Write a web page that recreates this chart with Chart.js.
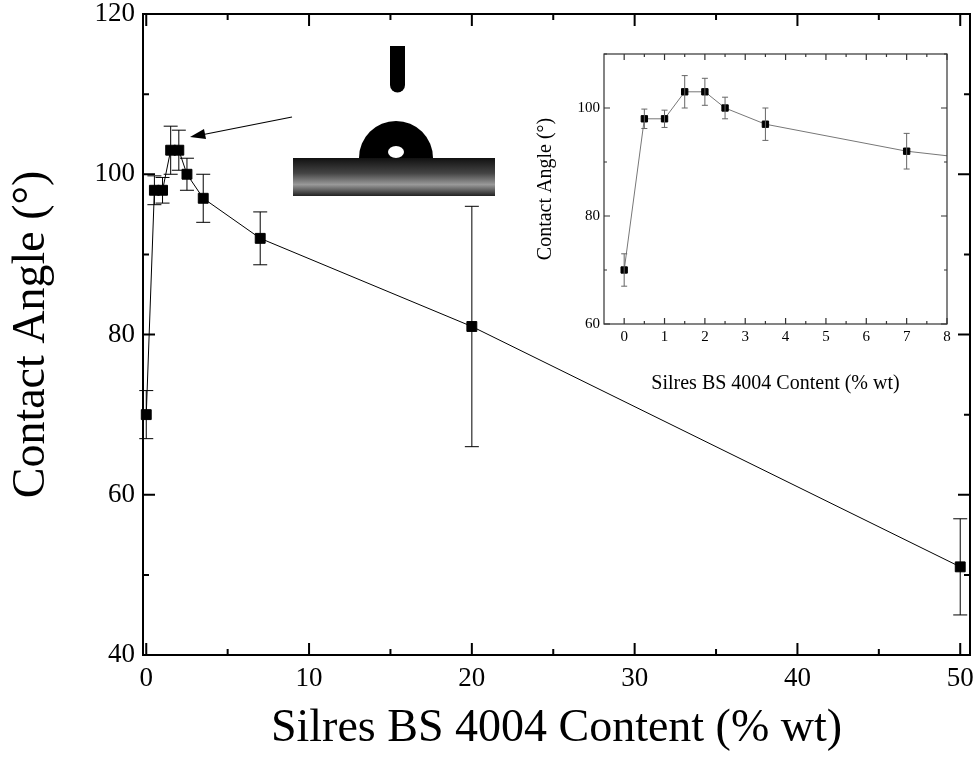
<!DOCTYPE html>
<html>
<head>
<meta charset="UTF-8">
<script src="https://cdn.jsdelivr.net/npm/chart.js"></script>
<style>
  body { margin: 0; background: #fff; }
  #wrap { position: relative; width: 979px; height: 761px; }
  #main { position: absolute; left: 0; top: 0; }
  #inset { position: absolute; left: 530px; top: 40px; }
</style>
</head>
<body>
<div id="wrap">
  <canvas id="main" width="979" height="761"></canvas>
  <canvas id="inset" width="440" height="360"></canvas>
</div>
<script>
// data
const content = [0, 0.5, 1, 1.5, 2, 2.5, 3.5, 7, 20, 50];
const angle = [70, 98, 98, 103, 103, 100, 97, 92, 81, 51];
const angleErr = [3, 1.8, 1.6, 3, 2.5, 2, 3, 3.3, 15, 6];
const insetCount = 8; // points shown in inset (plus segment towards 20%)

const FONT = "'Liberation Serif', 'DejaVu Serif', serif";

const errorBars = {
  id: 'errorBars',
  afterDatasetsDraw(chart, args, opts) {
    const ctx = chart.ctx, xs = chart.scales.x, ys = chart.scales.y;
    ctx.save();
    ctx.strokeStyle = opts.color; ctx.lineWidth = 1;
    chart.data.datasets[0].data.forEach((p, i) => {
      const x = xs.getPixelForValue(p.x);
      if (x > chart.chartArea.right + 1) return;
      const y1 = ys.getPixelForValue(p.y - angleErr[i]);
      const y2 = ys.getPixelForValue(p.y + angleErr[i]);
      ctx.beginPath();
      ctx.moveTo(x, y1); ctx.lineTo(x, y2);
      ctx.moveTo(x - opts.cap, y1); ctx.lineTo(x + opts.cap, y1);
      ctx.moveTo(x - opts.cap, y2); ctx.lineTo(x + opts.cap, y2);
      ctx.stroke();
    });
    ctx.restore();
  }
};

// box with inward ticks on all four sides
const frame = {
  id: 'frame',
  afterDraw(chart, args, opts) {
    const a = chart.chartArea, ctx = chart.ctx, xs = chart.scales.x, ys = chart.scales.y;
    ctx.save();
    ctx.strokeStyle = opts.color; ctx.lineWidth = opts.w;
    ctx.strokeRect(a.left, a.top, a.right - a.left, a.bottom - a.top);
    ctx.beginPath();
    opts.xt.forEach(v => {
      const x = xs.getPixelForValue(v), L = opts.xl.includes(v) ? opts.major : opts.minor;
      ctx.moveTo(x, a.bottom); ctx.lineTo(x, a.bottom - L);
      ctx.moveTo(x, a.top); ctx.lineTo(x, a.top + L);
    });
    opts.yt.forEach(v => {
      const y = ys.getPixelForValue(v), L = opts.yl.includes(v) ? opts.major : opts.minor;
      ctx.moveTo(a.left, y); ctx.lineTo(a.left + L, y);
      ctx.moveTo(a.right, y); ctx.lineTo(a.right - L, y);
    });
    ctx.stroke();
    ctx.restore();
  }
};

// photo of the droplet plus arrow (decoration)
const droplet = {
  id: 'droplet',
  afterDraw(chart) {
    const ctx = chart.ctx;
    ctx.save();
    const g = ctx.createLinearGradient(0, 158, 0, 196);
    g.addColorStop(0, '#111'); g.addColorStop(0.4, '#444'); g.addColorStop(0.7, '#999'); g.addColorStop(1, '#222');
    ctx.fillStyle = g;
    ctx.fillRect(293, 158, 202, 38);
    ctx.fillStyle = '#000';
    ctx.beginPath(); ctx.arc(396, 158, 37, Math.PI, 0); ctx.fill();
    ctx.fillStyle = '#fff';
    ctx.beginPath(); ctx.ellipse(396, 152, 8, 6, 0, 0, 2 * Math.PI); ctx.fill();
    ctx.fillStyle = '#000';
    ctx.beginPath(); ctx.moveTo(390, 46); ctx.lineTo(405, 46); ctx.lineTo(405, 85);
    ctx.arc(397.5, 85, 7.5, 0, Math.PI); ctx.closePath(); ctx.fill();
    ctx.strokeStyle = '#000'; ctx.lineWidth = 1.2;
    ctx.beginPath(); ctx.moveTo(292, 117); ctx.lineTo(196, 136); ctx.stroke();
    ctx.beginPath(); ctx.moveTo(190, 137); ctx.lineTo(204, 129); ctx.lineTo(206, 139); ctx.closePath(); ctx.fill();
    ctx.restore();
  }
};

function makeChart(id, pts, o) {
  return new Chart(document.getElementById(id), {
    type: 'scatter',
    data: { datasets: [{
      data: pts, showLine: true, borderColor: o.lineColor, borderWidth: 1,
      pointStyle: 'rect', pointRadius: o.ptR, pointHoverRadius: o.ptR,
      pointBackgroundColor: '#000', pointBorderColor: '#000'
    }] },
    options: {
      responsive: false, animation: false, clip: o.clip,
      layout: { padding: { top: o.top, right: o.right, left: 0, bottom: 0 } },
      plugins: { legend: { display: false }, tooltip: { enabled: false },
        errorBars: { cap: o.cap, color: o.errColor },
        frame: { w: o.frameW, color: o.frameColor, major: o.major, minor: o.minor,
          xt: o.xticks, xl: o.xlabels, yt: o.yticks, yl: o.ylabels } },
      scales: {
        x: {
          type: 'linear', min: o.xmin, max: o.xmax,
          afterBuildTicks: s => { s.ticks = o.xlabels.map(v => ({ value: v })); },
          afterFit: s => { s.height = o.xh; s.paddingLeft = 0; s.paddingRight = 0; },
          grid: { display: false, drawTicks: false },
          border: { display: false },
          ticks: { color: '#000', font: { family: FONT, size: o.tickSize }, padding: o.tp },
          title: { display: true, text: 'Silres BS 4004 Content (% wt)', color: '#000',
            font: { family: FONT, size: o.titleSize }, padding: { top: o.xtp } }
        },
        y: {
          min: o.ymin, max: o.ymax,
          afterBuildTicks: s => { s.ticks = o.ylabels.map(v => ({ value: v })); },
          afterFit: s => { s.width = o.yw; s.paddingTop = 0; s.paddingBottom = 0; },
          grid: { display: false, drawTicks: false },
          border: { display: false },
          ticks: { color: '#000', font: { family: FONT, size: o.tickSize }, padding: o.tp },
          title: { display: true, text: 'Contact Angle (\u00B0)', color: '#000',
            font: { family: FONT, size: o.titleSize }, padding: { bottom: o.ytp } }
        }
      }
    },
    plugins: [errorBars, frame].concat(o.extra || [])
  });
}

const mainPts = content.map((x, i) => ({ x, y: angle[i] }));
makeChart('main', mainPts, {
  lineColor: '#000', ptR: 7, cap: 7, errColor: '#000', frameW: 2, frameColor: '#000', clip: false,
  major: 12, minor: 6, tp: 8,
  top: 14, right: 9, xh: 106, yw: 143, tickSize: 27, titleSize: 46, xtp: 0, ytp: 14,
  xmin: -0.2, xmax: 50.6, xticks: [0,5,10,15,20,25,30,35,40,45,50], xlabels: [0,10,20,30,40,50],
  ymin: 40, ymax: 120, yticks: [40,50,60,70,80,90,100,110,120], ylabels: [40,60,80,100,120],
  extra: [droplet]
});

const insetPts = content.slice(0, insetCount + 1).map((x, i) => ({ x, y: angle[i] }));
makeChart('inset', insetPts, {
  lineColor: '#777', ptR: 4.5, cap: 3, errColor: '#666', frameW: 1.2, frameColor: '#333', clip: 0,
  major: 6, minor: 3, tp: 4,
  top: 14, right: 23, xh: 76, yw: 74, tickSize: 15, titleSize: 20, xtp: 6, ytp: 2,
  xmin: -0.5, xmax: 8, xticks: [0,0.5,1,1.5,2,2.5,3,3.5,4,4.5,5,5.5,6,6.5,7,7.5,8], xlabels: [0,1,2,3,4,5,6,7,8],
  ymin: 60, ymax: 110, yticks: [60,70,80,90,100,110], ylabels: [60,80,100]
});
</script>
</body>
</html>
